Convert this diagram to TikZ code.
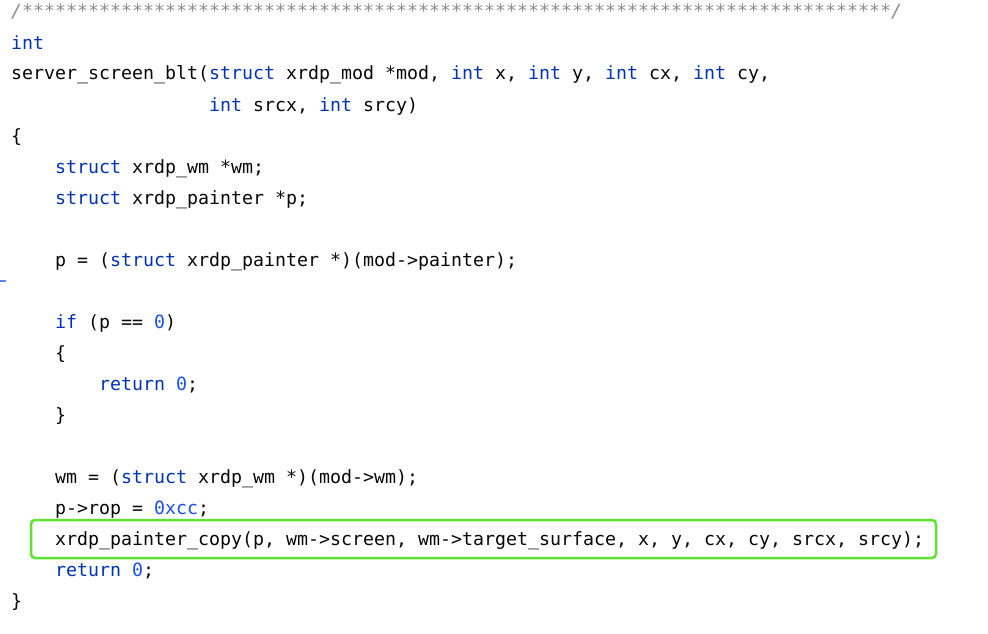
\documentclass[tikz,border=0pt]{standalone}
\usepackage{fontspec}
\setmonofont{DejaVu Sans Mono}
\definecolor{kw}{HTML}{0033B3}
\definecolor{num}{HTML}{1750EB}
\definecolor{cmt}{HTML}{8C8C8C}
\definecolor{txt}{HTML}{080808}
\definecolor{hl}{HTML}{5FE332}
\newcommand{\kw}[1]{\textcolor{kw}{#1}}
\newcommand{\nm}[1]{\textcolor{num}{#1}}
\begin{document}
\begin{tikzpicture}[x=1pt,y=-1pt,
  code/.style={anchor=base west,inner sep=0pt,text=txt,font=\ttfamily\fontsize{18.27}{20}\selectfont}]
\useasboundingbox[fill=white] (0,0) rectangle (988,634);
\def\ly#1{\numexpr 18+31*#1\relax}
\node[code] (l0) at (11,{18+31*0}) {\textcolor{cmt}{\itshape /*******************************************************************************/}};
\node[code] (l1) at (11,{18+31*1}) {\kw{int}};
\node[code] (l2) at (11,{18+31*2}) {server\_screen\_blt(\kw{struct} xrdp\_mod *mod, \kw{int} x, \kw{int} y, \kw{int} cx, \kw{int} cy,};
\node[code] (l3) at (209,{18+31*3}) {\kw{int} srcx, \kw{int} srcy)};
\node[code] (l4) at (11,{18+31*4}) {\{};
\node[code] (l5) at (55,{18+31*5}) {\kw{struct} xrdp\_wm *wm;};
\node[code] (l6) at (55,{18+31*6}) {\kw{struct} xrdp\_painter *p;};
\node[code] (l8) at (55,{18+31*8}) {p = (\kw{struct} xrdp\_painter *)(mod->painter);};
\node[code] (l10) at (55,{18+31*10}) {\kw{if} (p == \nm{0})};
\node[code] (l11) at (55,{18+31*11}) {\{};
\node[code] (l12) at (99,{18+31*12}) {\kw{return} \nm{0};};
\node[code] (l13) at (55,{18+31*13}) {\}};
\node[code] (l15) at (55,{18+31*15}) {wm = (\kw{struct} xrdp\_wm *)(mod->wm);};
\node[code] (l16) at (55,{18+31*16}) {p->rop = \nm{0xcc};};
\node[code] (l17) at (55,{18+31*17}) {xrdp\_painter\_copy(p, wm->screen, wm->target\_surface, x, y, cx, cy, srcx, srcy);};
\node[code] (l18) at (55,{18+31*18}) {\kw{return} \nm{0};};
\node[code] (l19) at (11,{18+31*19}) {\}};
\draw[hl,line width=2.5pt,rounded corners=4pt] (31,520) rectangle (936,558);
\draw[color=num!70,line width=1.2pt] (0,281) -- (6,281);
\end{tikzpicture}
\end{document}
